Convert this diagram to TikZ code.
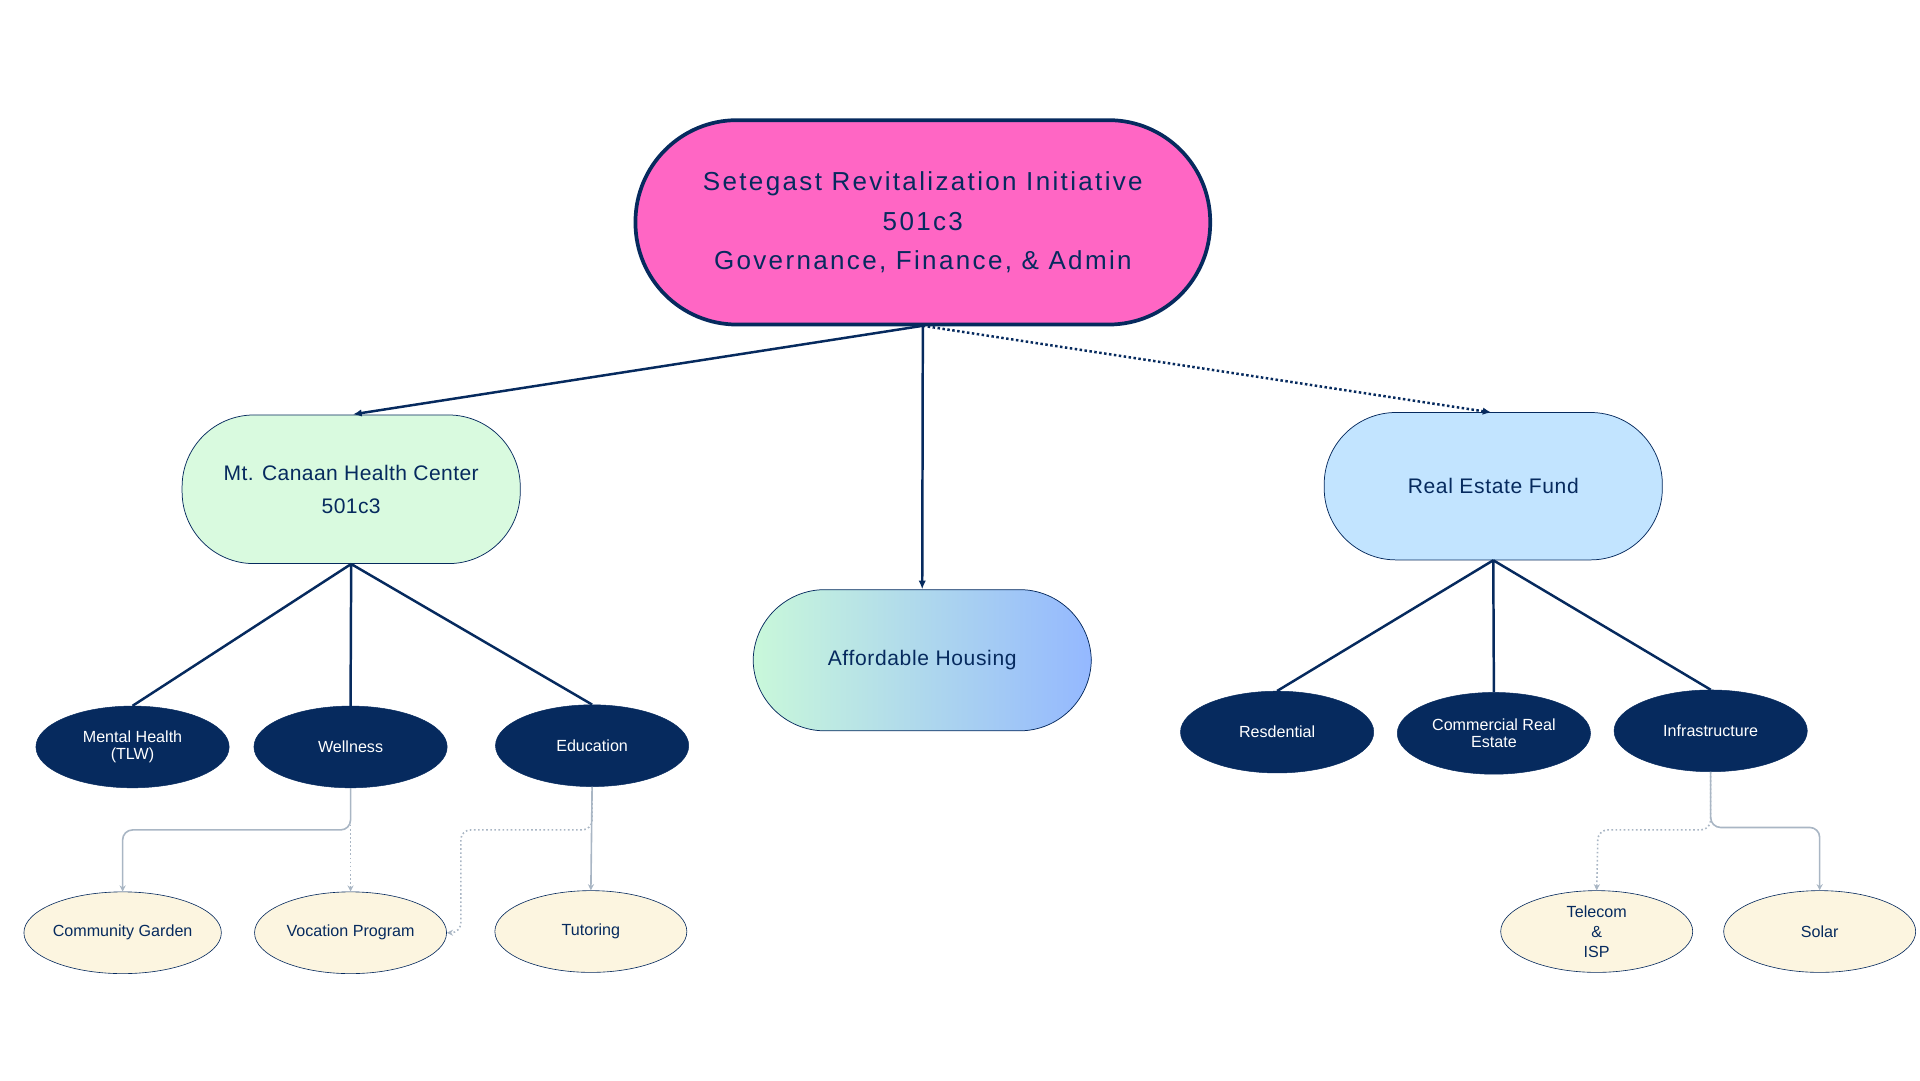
\documentclass[tikz,border=0pt]{standalone}
\usepackage{fontspec}
\setmainfont{Liberation Sans}
\usetikzlibrary{shapes.geometric,arrows.meta,shadings}
\definecolor{navy}{HTML}{062A5E}
\definecolor{pinkf}{HTML}{FF66C4}
\definecolor{greenf}{HTML}{D9FADF}
\definecolor{greeng}{HTML}{C9F8DA}
\definecolor{blueg}{HTML}{94B8FF}
\definecolor{bluef}{HTML}{C2E4FF}
\definecolor{creamf}{HTML}{FCF5E0}
\definecolor{grayl}{HTML}{A9B6C4}
\begin{document}
\begin{tikzpicture}[x=1pt,y=-1pt,
  pill/.style={rectangle,rounded corners=58pt,draw=navy,text=navy,align=center,inner sep=0pt},
  dark/.style={ellipse,fill=navy,draw=navy,text=white,minimum width=156pt,minimum height=66pt,inner sep=0pt,align=center,font=\fontsize{13}{14}\selectfont},
  cream/.style={ellipse,fill=creamf,draw=navy,line width=0.5pt,text=navy,minimum width=155pt,minimum height=66pt,inner sep=0pt,align=center,font=\fontsize{13}{16}\selectfont},
  thick line/.style={draw=navy,line width=2pt},
  arr/.style={-{Latex[length=7pt,width=6pt]}},
  gl/.style={draw=grayl,line width=1.3pt,rounded corners=8pt,-{Stealth[length=5pt,width=5pt]}},
  gd/.style={gl,dotted}]
\useasboundingbox (0,0) rectangle (1550,872);
\node[pill,fill=pinkf,line width=3pt,minimum width=464pt,minimum height=165pt,rounded corners=82pt,font=\fontsize{21}{32}\selectfont\addfontfeatures{LetterSpace=9}] (root) at (745,179.5) {Setegast Revitalization Initiative\\501c3\\Governance, Finance, \& Admin};
\node[pill,fill=greenf,line width=0.6pt,minimum width=273pt,minimum height=120pt,font=\fontsize{17}{27}\selectfont\addfontfeatures{LetterSpace=2}] (mc) at (283.5,395) {Mt. Canaan Health Center\\501c3};
\node[pill,left color=greeng,right color=blueg,shading angle=90,line width=0.6pt,minimum width=273pt,minimum height=114pt,font=\fontsize{17}{20}\selectfont\addfontfeatures{LetterSpace=3}] (ah) at (744.5,533) {Affordable Housing};
\node[pill,fill=bluef,line width=0.6pt,minimum width=273pt,minimum height=119pt,font=\fontsize{17}{20}\selectfont\addfontfeatures{LetterSpace=3}] (re) at (1205.5,392.5) {Real Estate Fund};
\node[dark] (mh) at (107,603) {Mental Health\\(TLW)};
\node[dark] (we) at (283,603) {Wellness};
\node[dark] (ed) at (478,602) {Education};
\node[dark] (rs) at (1031,591) {Resdential};
\node[dark] (cr) at (1206,592) {Commercial Real\\Estate};
\node[dark] (in) at (1381,590) {Infrastructure};
\node[cream] (cg) at (99,753) {Community Garden};
\node[cream] (vp) at (283,753) {Vocation Program};
\node[cream] (tu) at (477,752) {Tutoring};
\node[cream] (tc) at (1289,752) {Telecom\\\&\\ISP};
\node[cream] (so) at (1469,752) {Solar};
\coordinate (rb) at (745,263);
\draw[navy,line width=2pt,arr] (rb) -- (285,334.5);
\draw[navy,line width=2pt,arr] (rb) -- (ah.north);
\draw[navy,line width=2pt,dotted,arr] (rb) -- (1204,333);
\draw[thick line] (mc.south) -- (mh.north) (mc.south) -- (we.north) (mc.south) -- (ed.north);
\draw[thick line] (re.south) -- (rs.north) (re.south) -- (cr.north) (re.south) -- (in.north);
\draw[gl] (we.south) -- (283,670) -- (99,670) -- (cg.north);
\draw[gd] (we.south) -- (vp.north);
\draw[gd] (ed.south) -- (478,670) -- (372,670) -- (372,753) -- (vp.east);
\draw[gl] (ed.south) -- (tu.north);
\draw[gd] (in.south) -- (1381,670) -- (1290,670) -- (tc.north);
\draw[gl] (in.south) -- (1381,668) -- (1469,668) -- (so.north);
\end{tikzpicture}
\end{document}
